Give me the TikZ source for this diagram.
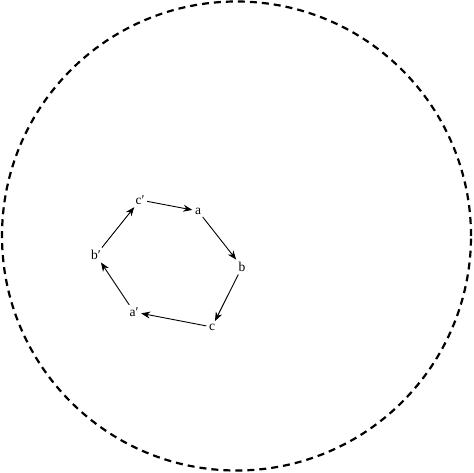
\documentclass[tikz,border=0pt]{standalone}
\usepackage{fontspec}
\setmainfont{Liberation Serif}
\usetikzlibrary{arrows.meta}
\begin{document}
\begin{tikzpicture}[x=1pt,y=1pt,
  lbl/.style={inner sep=2.5pt,font=\fontsize{13.5}{15}\selectfont},
  conn/.style={-{Stealth[length=9pt,width=7pt]},line width=0.9pt}]
\useasboundingbox (0,0) rectangle (474,472);
\draw[line width=2.2pt,dash pattern=on 7pt off 5pt] (236.5,236) circle (234.5);
\node[lbl] (cp) at (140,272) {c′};
\node[lbl] (a) at (198,261) {a};
\node[lbl] (b) at (242,205) {b};
\node[lbl] (c) at (212,145) {c};
\node[lbl] (ap) at (134,160) {a′};
\node[lbl] (bp) at (96,217) {b′};
\draw[conn] (cp) -- (a);
\draw[conn] (a) -- (b);
\draw[conn] (b) -- (c);
\draw[conn] (c) -- (ap);
\draw[conn] (ap) -- (bp);
\draw[conn] (bp) -- (cp);
\end{tikzpicture}
\end{document}
